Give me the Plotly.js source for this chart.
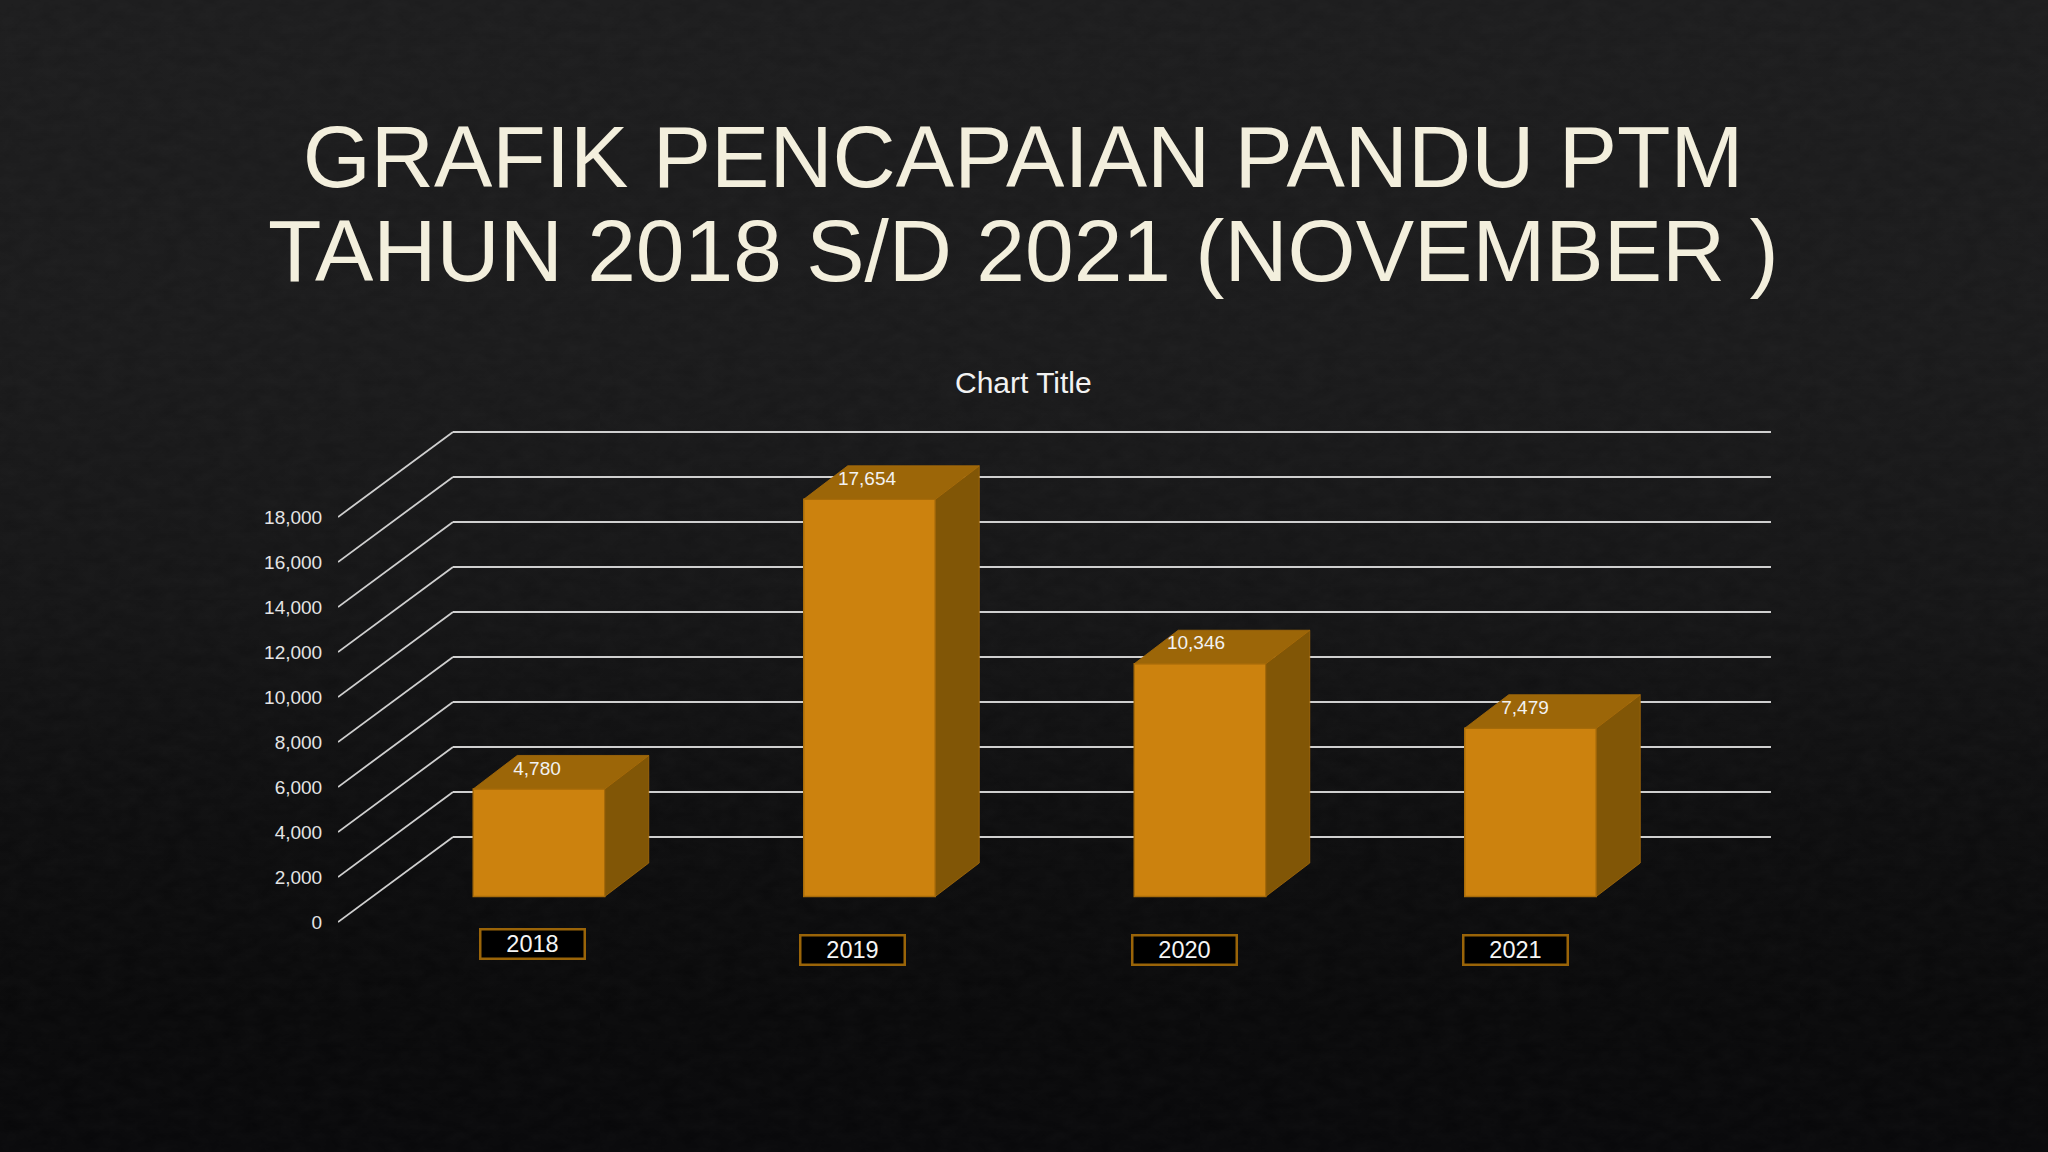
<!DOCTYPE html>
<html>
<head>
<meta charset="utf-8">
<script src="https://cdn.plot.ly/plotly-3.0.1.min.js"></script>
<style>
html,body{margin:0;padding:0;width:2048px;height:1152px;overflow:hidden;background:#0a0a0b;}
#bg{position:absolute;left:0;top:0;width:2048px;height:1152px;
background:linear-gradient(180deg,#1c1c1d 0%,#1a1a1b 30%,#151516 52%,#0d0d0e 72%,#09090a 88%,#08080a 100%);}
#noise{position:absolute;left:0;top:0;width:2048px;height:1152px;opacity:0.045;
background-image:url("data:image/svg+xml;utf8,<svg xmlns='http://www.w3.org/2000/svg' width='600' height='600'><filter id='n'><feTurbulence type='fractalNoise' baseFrequency='0.05 0.09' numOctaves='3' stitchTiles='stitch'/><feColorMatrix values='0 0 0 0 0.5 0 0 0 0 0.5 0 0 0 0 0.5 0.9 0 0 0 -0.1'/></filter><rect width='600' height='600' filter='url(%23n)'/></svg>");}
#chart{position:absolute;left:0;top:0;width:2048px;height:1152px;}
</style>
</head>
<body>
<div id="bg"></div>
<div id="noise"></div>
<div id="chart"></div>
<script>
// data
var categories = ['2018', '2019', '2020', '2021'];
var values = [4780, 17654, 10346, 7479];
var yTicks = [0, 2000, 4000, 6000, 8000, 10000, 12000, 14000, 16000, 18000];

// pixel geometry of the false-3D projection
var W = 2048, H = 1152;
var xPerPx = 1 / 330.5, yPerPx = 1 / 0.0225;
var plot = {l: 338, r: 1771, t: 400, b: 1000};
var x0px = 539, y0px = 922;
var xRange = [(plot.l - x0px) * xPerPx, (plot.r - x0px) * xPerPx];
var yRange = [(y0px - plot.b) * yPerPx, (y0px - plot.t) * yPerPx];
var wallDx = 115 * xPerPx, wallDy = 85 * yPerPx;
var barWidth = 131.5 * xPerPx, barBase = 25.5 * yPerPx;
var depthDx = 44 * xPerPx, depthDy = 33.5 * yPerPx;
var topColor = '#9C6608', sideColor = '#815606', frontColor = '#CC820E', edge = '#A86C0A';
var gridColor = '#CFCFCF', textColor = '#F2F2F2';
var font = 'Liberation Sans, Arial, sans-serif';

var idx = categories.map(function (_, i) { return i; });

function polygon(xs, ys, color) {
  return {type: 'scatter', mode: 'lines', x: xs, y: ys, fill: 'toself', fillcolor: color,
    line: {color: edge, width: 0.8}, hoverinfo: 'skip', showlegend: false};
}

var traces = [{
  type: 'bar', x: idx, y: values, base: barBase, width: barWidth,
  marker: {color: frontColor, line: {color: edge, width: 1.5}},
  hoverinfo: 'y', showlegend: false
}];
idx.forEach(function (i) {
  var l = i - barWidth / 2, r = i + barWidth / 2, t = barBase + values[i], b = barBase;
  traces.push(polygon([r, r + depthDx, r + depthDx, r, r], [b, b + depthDy, t + depthDy, t, b], sideColor));
  traces.push(polygon([l, r, r + depthDx, l + depthDx, l], [t, t, t + depthDy, t + depthDy, t], topColor));
});
var labelDx = [-2, -2.5, -4, -5.5];
traces.push({
  type: 'scatter', mode: 'text',
  x: idx.map(function (i) { return i + labelDx[i] * xPerPx; }),
  y: values.map(function (v) { return barBase + v + 19 * yPerPx; }),
  text: values.map(function (v) { return v.toLocaleString('en-US'); }),
  textposition: 'middle center',
  textfont: {family: font, size: 19, color: textColor},
  hoverinfo: 'skip', showlegend: false
});

var shapes = [];
yTicks.forEach(function (t) {
  var common = {type: 'line', xref: 'x', yref: 'y', layer: 'below', line: {color: gridColor, width: 2}};
  shapes.push(Object.assign({}, common, {x0: xRange[0], x1: xRange[0] + wallDx, y0: t, y1: t + wallDy, line: {color: gridColor, width: 1.8}}));
  shapes.push(Object.assign({}, common, {x0: xRange[0] + wallDx, x1: xRange[1], y0: t + wallDy, y1: t + wallDy}));
});

var catBoxX = [532, 852.5, 1184, 1515];
var catBoxY = [944, 950, 950, 950];
var annotations = categories.map(function (c, i) {
  return {text: c, xref: 'x', yref: 'y',
    x: (catBoxX[i] - x0px) * xPerPx, y: (y0px - catBoxY[i]) * yPerPx,
    showarrow: false, xanchor: 'center', yanchor: 'middle', width: 102, height: 27,
    bgcolor: '#000000', bordercolor: '#9A6408', borderwidth: 2.5, borderpad: 0,
    font: {family: font, size: 23.5, color: '#F5F5F5'}};
});
annotations.push({text: 'TAHUN 2018 S/D 2021 (NOVEMBER )', xref: 'paper', yref: 'paper',
  x: 1023.5 / W, y: 1 - 251 / H, showarrow: false, xanchor: 'center', yanchor: 'middle',
  font: {family: font, size: 87.5, color: '#F3EFDD'}});
annotations.push({text: 'Chart Title', xref: 'paper', yref: 'paper',
  x: 1023 / W, y: 1 - 382 / H, showarrow: false, xanchor: 'center', yanchor: 'middle',
  font: {family: font, size: 30, color: '#F2F2F2'}});

var layout = {
  width: W, height: H,
  margin: {l: 0, r: 0, t: 0, b: 0, autoexpand: false},
  paper_bgcolor: 'rgba(0,0,0,0)', plot_bgcolor: 'rgba(0,0,0,0)',
  title: {text: 'GRAFIK PENCAPAIAN PANDU PTM', x: 1023 / W, y: 1 - 156 / H,
    xref: 'paper', yref: 'paper', xanchor: 'center', yanchor: 'middle',
    font: {family: font, size: 87.5, color: '#F3EFDD'}},
  xaxis: {domain: [plot.l / W, plot.r / W], range: xRange, showgrid: false, zeroline: false,
    showticklabels: false, ticks: '', showline: false, fixedrange: true},
  yaxis: {domain: [1 - plot.b / H, 1 - plot.t / H], range: yRange, showgrid: false, zeroline: false,
    tickmode: 'array', tickvals: yTicks, tickformat: ',d',
    ticks: 'outside', ticklen: 11, tickcolor: 'rgba(0,0,0,0)', showline: false, fixedrange: true,
    tickfont: {family: font, size: 19, color: '#E4E4E4'}},
  shapes: shapes, annotations: annotations, showlegend: false, bargap: 0
};
Plotly.newPlot('chart', traces, layout, {displayModeBar: false, staticPlot: true});
</script>
</body>
</html>
